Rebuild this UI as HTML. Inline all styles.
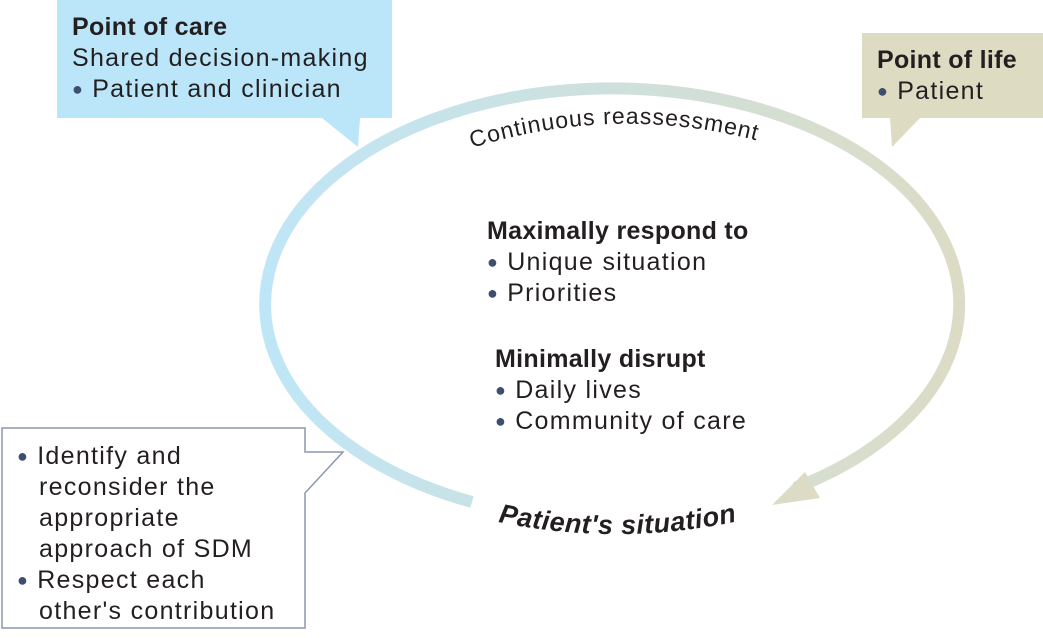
<!DOCTYPE html>
<html><head><meta charset="utf-8"><style>
body{margin:0;width:1043px;height:638px;background:#fff;overflow:hidden;font-family:"Liberation Sans",sans-serif;color:#231f20}
.t{position:absolute;font-size:25px;line-height:31px;white-space:nowrap;letter-spacing:1.3px}
b{font-weight:bold;letter-spacing:0.3px}
.d{color:#3d4f6e;font-size:18px;vertical-align:2px;margin-right:8px}
</style></head><body>
<svg width="1043" height="638" style="position:absolute;left:0;top:0">
<defs><linearGradient id="g" x1="0" x2="1" y1="0" y2="0">
<stop offset="0" stop-color="#bfe6f7"/><stop offset="0.5" stop-color="#cfe0dc"/><stop offset="1" stop-color="#dcdcc6"/></linearGradient></defs>
<path d="M57 0H392V118H360L358 147L322 118H57Z" fill="#bbe5f8"/>
<path d="M862 33H1043V118H920L892 147L890 118H862Z" fill="#dddcc3"/>
<path d="M2 428H305V452H343L305 493V628H2Z" fill="#fff" stroke="#8a97ad" stroke-width="1.5"/>
<path d="M472 502 A 347 216 0 1 1 795 488" fill="none" stroke="url(#g)" stroke-width="12"/>
<polygon points="772,505 805,472 820,498" fill="#dcdcc6"/>
<path id="c1" d="M472 148 Q 625 100 780 147" fill="none"/>
<text font-size="23" letter-spacing="1" fill="#231f20"><textPath href="#c1">Continuous reassessment</textPath></text>
<path id="c2" d="M498 522 Q 625 548 752 518" fill="none"/>
<text font-size="27" font-weight="bold" font-style="italic" letter-spacing="0.5" fill="#231f20"><textPath href="#c2">Patient's situation</textPath></text>
</svg>
<div class="t" style="left:72px;top:12px"><b>Point of care</b><br>Shared decision-making<br><span class="d">●</span>Patient and clinician</div>
<div class="t" style="left:877px;top:45px"><b>Point of life</b><br><span class="d">●</span>Patient</div>
<div class="t" style="left:487px;top:216px"><b>Maximally respond to</b><br><span class="d">●</span>Unique situation<br><span class="d">●</span>Priorities</div>
<div class="t" style="left:495px;top:344px"><b>Minimally disrupt</b><br><span class="d">●</span>Daily lives<br><span class="d">●</span>Community of care</div>
<div class="t" style="left:17px;top:441px"><span class="d">●</span>Identify and<br><span style="margin-left:22px">reconsider the</span><br><span style="margin-left:22px">appropriate</span><br><span style="margin-left:22px">approach of SDM</span><br><span class="d">●</span>Respect each<br><span style="margin-left:22px">other's contribution</span></div>
</body></html>
